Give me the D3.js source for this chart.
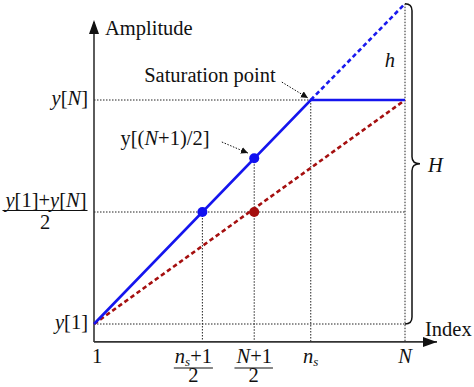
<!DOCTYPE html>
<html>
<head>
<meta charset="utf-8">
<script src="https://cdn.jsdelivr.net/npm/d3@7"></script>
<style>
  body { margin: 0; background: #fff; }
</style>
</head>
<body>
<div id="chart"></div>
<script>
// index positions: 1, (ns+1)/2, (N+1)/2, ns, N
var xTickValues = [1, 35.5, 52, 70, 100];
var xTickLabels = [
    { num: [["1", ""]] },
    { num: [["n", "i"], ["s", "sub"], ["+1", ""]], den: "2" },
    { num: [["N", "i"], ["+1", ""]], den: "2" },
    { num: [["n", "i"], ["s", "sub"]] },
    { num: [["N", "i"]] }
];
// amplitude levels: y[1], (y[1]+y[N])/2, y[N]
var yTickValues = [0, 0.5, 1];
var yTickLabels = [
    { num: [["y", "i"], ["[1]", ""]] },
    { num: [["y", "i"], ["[1]+", ""], ["y", "i"], ["[", ""], ["N", "i"], ["]", ""]], den: "2" },
    { num: [["y", "i"], ["[", ""], ["N", "i"], ["]", ""]] }
];

var blueSolid = [[1, 0], [70, 1], [100, 1]];
var blueDashed = [[70, 1], [100, 1.43]];
var redDashed = [[1, 0], [100, 1]];
var blueDots = [[35.5, 0.5], [52, 0.74]];
var redDots = [[52, 0.5]];

// dotted guides [x1, y1, x2, y2]
var guides = [
    [1, 1, 70, 1], [1, 0.5, 100, 0.5], [1, 0, 100, 0],
    [35.5, 0.5, 35.5, -0.08], [52, 0.74, 52, -0.08],
    [70, 1, 70, -0.08], [100, 1.43, 100, -0.08]
];

var WIDTH = 474, HEIGHT = 387;
var svg = d3.select("#chart").append("svg")
    .attr("width", WIDTH)
    .attr("height", HEIGHT);

// every text gets the serif font directly
function txt(sel) {
    return sel.append("text")
        .attr("font-family", "Liberation Serif")
        .attr("font-size", 20.5)
        .attr("fill", "#111");
}

var x = d3.scaleLinear().domain([1, 100]).range([94, 405]);
var y = d3.scaleLinear().domain([0, 1]).range([324, 100]);
var axisY0 = y(-0.08);   // x-axis line
var axisX0 = x(1);       // y-axis line

var defs = svg.append("defs");
defs.append("marker")
    .attr("id", "head")
    .attr("viewBox", "0 0 10 10")
    .attr("refX", 10).attr("refY", 5)
    .attr("markerWidth", 7).attr("markerHeight", 7)
    .attr("markerUnits", "userSpaceOnUse")
    .attr("orient", "auto")
    .append("path").attr("d", "M0,0L10,5L0,10Z").attr("fill", "#111");

// guides
svg.selectAll(".guide")
    .data(guides)
    .enter().append("line")
    .attr("class", "guide")
    .attr("x1", function(d) { return x(d[0]); })
    .attr("y1", function(d) { return y(d[1]); })
    .attr("x2", function(d) { return x(d[2]); })
    .attr("y2", function(d) { return y(d[3]); })
    .attr("stroke", "#222")
    .attr("stroke-width", 1)
    .attr("stroke-dasharray", "1.5,1.5");

// axes with arrows
svg.append("line")
    .attr("x1", axisX0).attr("y1", axisY0)
    .attr("x2", 437).attr("y2", axisY0)
    .attr("stroke", "#333").attr("stroke-width", 1.6);
svg.append("path")
    .attr("d", "M437," + axisY0 + "L423," + (axisY0 - 5) + "L423," + (axisY0 + 5) + "Z")
    .attr("fill", "#111");
svg.append("line")
    .attr("x1", axisX0).attr("y1", axisY0)
    .attr("x2", axisX0).attr("y2", 22)
    .attr("stroke", "#333").attr("stroke-width", 1.6);
svg.append("path")
    .attr("d", "M" + axisX0 + ",20L" + (axisX0 - 5) + ",34L" + (axisX0 + 5) + ",34Z")
    .attr("fill", "#111");

var line = d3.line()
    .x(function(d) { return x(d[0]); })
    .y(function(d) { return y(d[1]); });

svg.append("path").datum(redDashed)
    .attr("d", line).attr("fill", "none")
    .attr("stroke", "#a50f0f").attr("stroke-width", 2.6)
    .attr("stroke-dasharray", "4.5,3");
svg.append("path").datum(blueDashed)
    .attr("d", line).attr("fill", "none")
    .attr("stroke", "#1a1aee").attr("stroke-width", 2.6)
    .attr("stroke-dasharray", "4.5,3");
svg.append("path").datum(blueSolid)
    .attr("d", line).attr("fill", "none")
    .attr("stroke", "#1515ee").attr("stroke-width", 2.6);

svg.selectAll(".bdot").data(blueDots).enter().append("circle")
    .attr("cx", function(d) { return x(d[0]); })
    .attr("cy", function(d) { return y(d[1]); })
    .attr("r", 5).attr("fill", "#1010f0");
svg.selectAll(".rdot").data(redDots).enter().append("circle")
    .attr("cx", function(d) { return x(d[0]); })
    .attr("cy", function(d) { return y(d[1]); })
    .attr("r", 5).attr("fill", "#a50f0f");

// rich text helper: "i" italic, "sub" italic subscript
function addParts(t, parts) {
    var shift = 0;
    parts.forEach(function(p) {
        var ts = t.append("tspan").text(p[0]);
        if (p[1] === "i" || p[1] === "sub") ts.attr("font-style", "italic");
        if (p[1] === "sub") {
            ts.attr("font-size", 13).attr("dy", 3);
            shift = 3;
        } else if (shift) {
            ts.attr("dy", -shift);
            shift = 0;
        }
    });
}

function drawLabel(g, lab, cx, baseline, anchor, barGap, denGap) {
    var t = txt(g).attr("x", cx).attr("y", baseline)
        .attr("text-anchor", anchor);
    addParts(t, lab.num);
    if (lab.den) {
        var bb = t.node().getBBox();
        g.append("line")
            .attr("x1", bb.x - 1).attr("x2", bb.x + bb.width + 1)
            .attr("y1", baseline + barGap).attr("y2", baseline + barGap)
            .attr("stroke", "#111").attr("stroke-width", 1.1);
        txt(g)
            .attr("x", bb.x + bb.width / 2).attr("y", baseline + denGap)
            .attr("text-anchor", "middle")
            .text(lab.den);
    }
}

var labels = svg.append("g");
xTickLabels.forEach(function(lab, i) {
    var cx = x(xTickValues[i]) + (i === 1 ? -9 : (i === 0 ? 3 : 0));
    drawLabel(labels, lab, cx, 363, "middle", 5, 19);
});
yTickLabels.forEach(function(lab, i) {
    if (lab.den) {
        drawLabel(labels, lab, 46, y(yTickValues[i]) - 5, "middle", 3.5, 22);
    } else {
        drawLabel(labels, lab, 88, y(yTickValues[i]) + 5, "end", 0, 0);
    }
});

txt(svg).attr("x", 105).attr("y", 35).text("Amplitude");
txt(svg).attr("x", 425).attr("y", 336).text("Index");

// annotations
txt(svg).attr("x", x(37.9)).attr("y", y(1.08))
    .attr("text-anchor", "middle").text("Saturation point");
svg.append("line")
    .attr("x1", x(60.8)).attr("y1", y(1.08))
    .attr("x2", x(69.1)).attr("y2", y(1.009))
    .attr("stroke", "#111").attr("stroke-width", 1)
    .attr("stroke-dasharray", "1.5,1.5")
    .attr("marker-end", "url(#head)");

var t2 = txt(svg).attr("x", x(23.6)).attr("y", y(0.8))
    .attr("text-anchor", "middle");
addParts(t2, [["y[(", ""], ["N", "i"], ["+1)/2]", ""]]);
svg.append("line")
    .attr("x1", x(41.7)).attr("y1", y(0.8125))
    .attr("x2", x(50)).attr("y2", y(0.763))
    .attr("stroke", "#111").attr("stroke-width", 1)
    .attr("stroke-dasharray", "1.5,1.5")
    .attr("marker-end", "url(#head)");

txt(svg).attr("x", x(95.2)).attr("y", y(1.147))
    .attr("text-anchor", "middle").attr("font-style", "italic").text("h");

// brace spanning y[1] .. extrapolated top
var bx = x(100), bTop = y(1.43), bBot = y(0), bMid = (bTop + bBot) / 2;
var sx = bx + 7, tx = bx + 15;
svg.append("path")
    .attr("d", "M" + bx + "," + bTop +
        "Q" + sx + "," + bTop + " " + sx + "," + (bTop + 7) +
        "L" + sx + "," + (bMid - 7) +
        "Q" + sx + "," + bMid + " " + tx + "," + bMid +
        "Q" + sx + "," + bMid + " " + sx + "," + (bMid + 7) +
        "L" + sx + "," + (bBot - 7) +
        "Q" + sx + "," + bBot + " " + bx + "," + bBot)
    .attr("fill", "none").attr("stroke", "#111").attr("stroke-width", 1.5);
txt(svg).attr("x", tx + 8).attr("y", bMid + 8)
    .attr("font-style", "italic").text("H");
</script>
</body>
</html>
